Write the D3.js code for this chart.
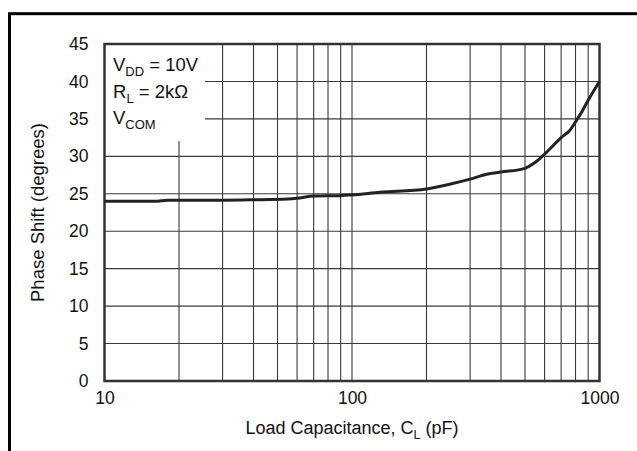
<!DOCTYPE html>
<html><head><meta charset="utf-8">
<script src="https://cdn.jsdelivr.net/npm/d3@7"></script>
<style>body{margin:0;background:#fff}svg{display:block}text{font-family:"Liberation Sans",Arial,sans-serif;fill:#111}</style>
</head><body><svg id="c" width="637" height="451"></svg>
<script>
const capPF = [10, 16, 18, 30, 40, 55, 60, 70, 90, 100, 130, 200, 250, 300, 350, 400, 500, 550, 600, 700, 760, 800, 850, 900, 1000];
const phaseDeg = [24.0, 24.0, 24.15, 24.15, 24.2, 24.3, 24.4, 24.7, 24.75, 24.85, 25.2, 25.65, 26.3, 26.95, 27.6, 27.9, 28.4, 29.2, 30.3, 32.5, 33.5, 34.6, 36.0, 37.5, 40.0];
const xTicks = [10, 100, 1000];
const yTicks = [0, 5, 10, 15, 20, 25, 30, 35, 40, 45];
const xGrid = [20,30,40,50,60,70,80,90,100,200,300,400,500,600,700,800,900];

const svg = d3.select("#c");
const L = 104.5, R = 599.5, T = 44, B = 381;
const x = d3.scaleLog().domain([10, 1000]).range([L, R]);
const y = d3.scaleLinear().domain([0, 45]).range([B, T]);

// outer frame
svg.append("rect").attr("x", 9.5).attr("y", 13.7).attr("width", 700).attr("height", 500)
  .attr("fill", "none").attr("stroke", "#000").attr("stroke-width", 3);

// grid
const g = svg.append("g");
g.selectAll(".vx").data(xGrid).join("line")
  .attr("x1", d => x(d)).attr("x2", d => x(d)).attr("y1", T).attr("y2", B)
  .attr("stroke", "#3a3a3a").attr("stroke-width", 1.1);
g.selectAll(".hy").data(yTicks.slice(1, -1)).join("line")
  .attr("x1", L).attr("x2", R).attr("y1", d => y(d)).attr("y2", d => y(d))
  .attr("stroke", "#3a3a3a").attr("stroke-width", 1.1);

// annotation box (white, covers grid)
svg.append("rect").attr("x", L).attr("y", T).attr("width", 100.5).attr("height", 97).attr("fill", "#fff");

// plot border
svg.append("rect").attr("x", L).attr("y", T).attr("width", R - L).attr("height", B - T)
  .attr("fill", "none").attr("stroke", "#333").attr("stroke-width", 2.5);

// curve
const line = d3.line().x(d => x(d[0])).y(d => y(d[1])).curve(d3.curveMonotoneX);
svg.append("path").datum(capPF.map((c, i) => [c, phaseDeg[i]]))
  .attr("d", line).attr("fill", "none").attr("stroke", "#222").attr("stroke-width", 3)
  .attr("stroke-linejoin", "round");

// axes (labels only)
const ax = svg.append("g").attr("transform", `translate(0,${B})`)
  .call(d3.axisBottom(x).tickValues(xTicks).tickFormat(d3.format("d")).tickSize(0).tickPadding(10.5));
ax.select(".domain").remove();
ax.selectAll("text").attr("font-size", 17.5).attr("font-family", "Liberation Sans, Arial, sans-serif").attr("fill", "#111");
const ay = svg.append("g").attr("transform", `translate(${L},0)`)
  .call(d3.axisLeft(y).tickValues(yTicks).tickSize(0).tickPadding(16));
ay.select(".domain").remove();
ay.selectAll("text").attr("font-size", 17.5).attr("font-family", "Liberation Sans, Arial, sans-serif").attr("fill", "#111");

// axis titles
const xt = svg.append("text").attr("x", (L + R) / 2).attr("y", 434).attr("text-anchor", "middle").attr("font-size", 18);
xt.append("tspan").text("Load Capacitance, C");
xt.append("tspan").attr("font-size", 12.5).attr("dy", 5).text("L");
xt.append("tspan").attr("dy", -5).text(" (pF)");

svg.append("text").attr("transform", `translate(44,${(T + B) / 2}) rotate(-90)`)
  .attr("text-anchor", "middle").attr("font-size", 18.5).text("Phase Shift (degrees)");

// annotation text
const ann = [["V", "DD", " = 10V"], ["R", "L", " = 2k\u03A9"], ["V", "COM", ""]];
ann.forEach((a, i) => {
  const t = svg.append("text").attr("x", 113).attr("y", 71 + i * 26.5).attr("font-size", 18.5);
  t.append("tspan").text(a[0]);
  t.append("tspan").attr("font-size", 13).attr("dy", 5).text(a[1]);
  if (a[2]) t.append("tspan").attr("dy", -5).text(a[2]);
});
</script></body></html>
